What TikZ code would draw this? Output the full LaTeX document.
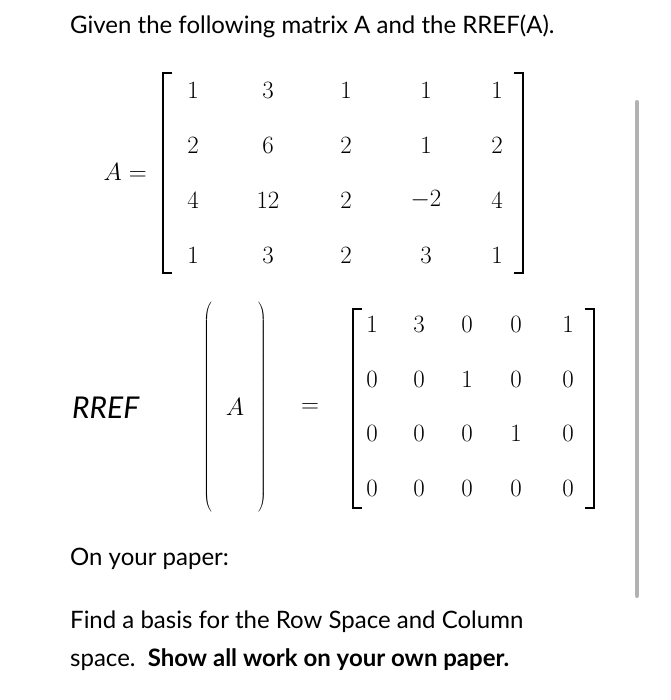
\documentclass[tikz,border=0pt]{standalone}
\usepackage{fontspec}
\setmainfont{Lato}
\begin{document}
\begin{tikzpicture}[x=1pt,y=-1pt,
  txt/.style={anchor=base west,inner sep=0pt,font=\fontsize{24}{28}\selectfont},
  ent/.style={inner sep=0pt,font=\fontsize{30}{34}\selectfont},
  ent2/.style={inner sep=0pt,font=\fontsize{29}{34}\selectfont},
  brk/.style={line width=1.6pt}]
\useasboundingbox (0,0) rectangle (670,700);
\node[txt] (t1) at (70,34) {Given the following matrix A and the RREF(A).};
\node[ent,anchor=east] (Alab) at (147,172) {$A=$};
% matrix A
\def\rowA#1#2#3{\foreach \v/\xx [count=\c] in {#3}{%
  \node[ent] (a#1\c) at (\xx,#2) {$\v$};}}
\rowA{1}{90}{1/193,3/268,1/346,1/426,1/497}
\rowA{2}{145}{2/193,6/268,2/346,1/426,2/497}
\rowA{3}{200}{4/193,12/268,2/346,-2/426,4/497}
\rowA{4}{255}{1/193,3/268,2/346,3/426,1/497}
\draw[brk] (172,73) -- (163,73) -- (163,273) -- (172,273);
\draw[brk] (514,73) -- (523,73) -- (523,273) -- (514,273);
% RREF
\node[ent,anchor=base west] (rref) at (72,418) {$\mathit{RREF}$};
\node[ent] (lp) at (208,408) {$\left(\vrule height 100pt depth 100pt width 0pt\right.$};
\node[ent] (A2) at (235,407) {$A$};
\node[ent] (rp) at (262,408) {$\left.\vrule height 100pt depth 100pt width 0pt\right)$};
\node[ent] (eq) at (310,408) {$=$};
\def\rowR#1#2#3{\foreach \v/\xx [count=\c] in {#3}{%
  \node[ent2] (r#1\c) at (\xx,#2) {$\v$};}}
\rowR{1}{324}{1/372,3/419,0/467,0/516,1/568}
\rowR{2}{379}{0/372,0/419,1/467,0/516,0/568}
\rowR{3}{433}{0/372,0/419,0/467,1/516,0/568}
\rowR{4}{488}{0/372,0/419,0/467,0/516,0/568}
\draw[brk] (362,309) -- (353,309) -- (353,508) -- (362,508);
\draw[brk] (585,309) -- (594,309) -- (594,508) -- (585,508);
% scrollbar
\draw[line width=4pt,gray!60,line cap=round] (637,102) -- (637,596);
\node[txt] (t2) at (70,565) {On your paper:};
\node[txt] (t3) at (70,628) {Find a basis for the Row Space and Column};
\node[txt] (t4) at (70,666) {space.\ \ \textbf{Show all work on your own paper.}};
\end{tikzpicture}
\end{document}
